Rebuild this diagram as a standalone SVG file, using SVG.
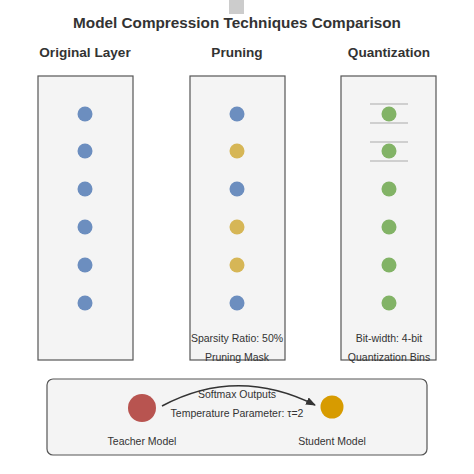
<svg xmlns="http://www.w3.org/2000/svg" width="474" height="474" viewBox="0 0 474 474">
<style>
text{font-family:"Liberation Sans",Arial,sans-serif;fill:#333;text-anchor:middle}
.title{font-size:15.3px;font-weight:bold}
.hdr{font-size:13.6px;font-weight:bold}
.lbl{font-size:10.5px}
.panel{fill:#f4f4f4;stroke:#555;stroke-width:1.2}
.b{fill:#6c8ebf}.y{fill:#d6b656}.g{fill:#82b366}
.bin{stroke:#aaa;stroke-width:1.2}
</style>
<defs>
<marker id="ah" markerWidth="10" markerHeight="8" refX="9" refY="4" orient="auto" markerUnits="userSpaceOnUse">
<path d="M0,0 L10,4 L0,8 Z" fill="#333"/>
</marker>
</defs>
<rect x="229" y="0" width="15" height="14" fill="#ccc"/>
<text class="title" x="237" y="28">Model Compression Techniques Comparison</text>
<g id="original">
<text class="hdr" x="85" y="57">Original Layer</text>
<rect class="panel" x="38" y="76" width="95" height="284"/>
<circle class="b" cx="85" cy="114" r="7.5"/>
<circle class="b" cx="85" cy="151" r="7.5"/>
<circle class="b" cx="85" cy="189" r="7.5"/>
<circle class="b" cx="85" cy="227" r="7.5"/>
<circle class="b" cx="85" cy="265" r="7.5"/>
<circle class="b" cx="85" cy="303" r="7.5"/>
</g>
<g id="pruning">
<text class="hdr" x="237" y="57">Pruning</text>
<rect class="panel" x="190" y="76" width="95" height="284"/>
<circle class="b" cx="237" cy="114" r="7.5"/>
<circle class="y" cx="237" cy="151" r="7.5"/>
<circle class="b" cx="237" cy="189" r="7.5"/>
<circle class="y" cx="237" cy="227" r="7.5"/>
<circle class="y" cx="237" cy="265" r="7.5"/>
<circle class="b" cx="237" cy="303" r="7.5"/>
<text class="lbl" x="237" y="342">Sparsity Ratio: 50%</text>
<text class="lbl" x="237" y="361">Pruning Mask</text>
</g>
<g id="quantization">
<text class="hdr" x="389" y="57">Quantization</text>
<rect class="panel" x="341" y="76" width="95" height="284"/>
<line class="bin" x1="370" y1="104" x2="408" y2="104"/>
<line class="bin" x1="370" y1="123" x2="408" y2="123"/>
<line class="bin" x1="370" y1="142" x2="408" y2="142"/>
<line class="bin" x1="370" y1="161" x2="408" y2="161"/>
<circle class="g" cx="389" cy="114" r="7.5"/>
<circle class="g" cx="389" cy="151" r="7.5"/>
<circle class="g" cx="389" cy="189" r="7.5"/>
<circle class="g" cx="389" cy="227" r="7.5"/>
<circle class="g" cx="389" cy="265" r="7.5"/>
<circle class="g" cx="389" cy="303" r="7.5"/>
<text class="lbl" x="389" y="342">Bit-width: 4-bit</text>
<text class="lbl" x="389" y="361">Quantization Bins</text>
</g>
<g id="distillation">
<rect x="47" y="379" width="380" height="76" rx="6" fill="#f4f4f4" stroke="#555" stroke-width="1.2"/>
</g>
<g id="teacher">
<circle cx="142" cy="408" r="14" fill="#b85450"/>
<text class="lbl" x="142" y="445">Teacher Model</text>
</g>
<g id="student">
<circle cx="332" cy="407" r="11.5" fill="#d79b00"/>
<text class="lbl" x="332" y="445">Student Model</text>
</g>
<g id="connectors">
<path d="M162,406 Q237,366 315,405" fill="none" stroke="#333" stroke-width="1.5" marker-end="url(#ah)"/>
<text class="lbl" x="237" y="398">Softmax Outputs</text>
<text class="lbl" x="237" y="417">Temperature Parameter: τ=2</text>
</g>
</svg>
